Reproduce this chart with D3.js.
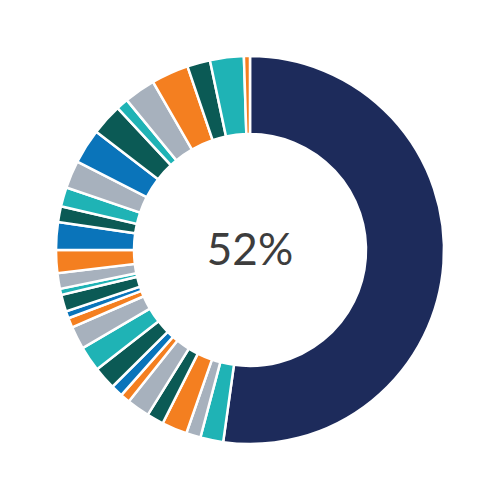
<!DOCTYPE html><html><head><script src="https://cdn.jsdelivr.net/npm/d3@7"></script>
<style>body{margin:0;background:#fff}</style></head><body><svg width="500" height="500"></svg><script>
const values=[52,1.9,1.2,2.1,1.4,1.9,0.8,1.0,1.9,2.1,1.9,0.8,0.6,1.4,0.5,1.3,1.9,2.3,1.3,1.6,2.3,2.9,2.6,1.0,2.6,3.1,1.9,2.8,0.5];
const colors=["#1d2b5b","#1fb3b5","#a7b1bd","#f47f20","#0b5a55","#a7b1bd","#f47f20","#0a74ba","#0b5a55","#1fb3b5","#a7b1bd","#f47f20","#0a74ba","#0b5a55","#1fb3b5","#a7b1bd","#f47f20","#0a74ba","#0b5a55","#1fb3b5","#a7b1bd","#0a74ba","#0b5a55","#1fb3b5","#a7b1bd","#f47f20","#0b5a55","#1fb3b5","#f47f20"];
const label="52%";
const svg=d3.select("svg"),g=svg.append("g").attr("transform","translate(250,250)");
const pie=d3.pie().sort(null).value(d=>d);
const arc=d3.arc().innerRadius(116).outerRadius(194);
g.selectAll("path").data(pie(values)).join("path").attr("d",arc).attr("fill",(d,i)=>colors[i]).attr("stroke","#fff").attr("stroke-width",2.5);
g.append("text").attr("text-anchor","middle").attr("dy","0.35em").attr("font-family","Lato").attr("font-size",44).attr("fill","#3d3d3d").text(label);
</script></body></html>
